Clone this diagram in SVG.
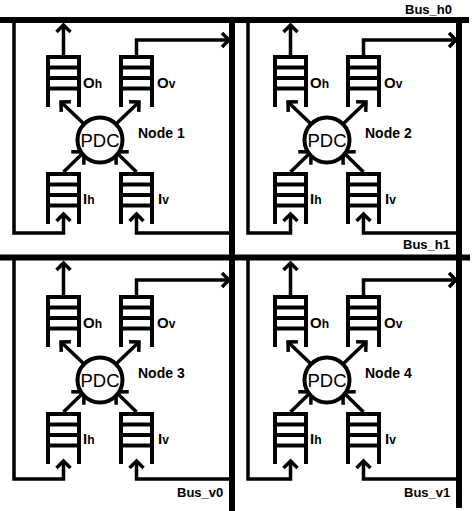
<svg xmlns="http://www.w3.org/2000/svg" width="474" height="511" viewBox="0 0 474 511">
<style>
.bus{fill:none;stroke:#000;stroke-width:6}
.ln{fill:none;stroke:#000;stroke-width:3.5}
.ar{marker-end:url(#ah)}
.ar2{marker-end:url(#ah2)}
.q{fill:none;stroke:#000;stroke-width:4}
.pdc{fill:#fff;stroke:#000;stroke-width:4}
.pt{font-family:"Liberation Sans",Arial,sans-serif;font-size:18.5px;fill:#000;text-anchor:middle}
.ql{font-family:"Liberation Sans",Arial,sans-serif;font-weight:bold;font-size:15px;fill:#000}
.sb{font-size:12px}
.nl{font-family:"Liberation Sans",Arial,sans-serif;font-weight:bold;font-size:14px;fill:#000}
.bl{font-family:"Liberation Sans",Arial,sans-serif;font-weight:bold;font-size:13px;fill:#000}
</style>
<defs>
<marker id="ah" markerUnits="userSpaceOnUse" viewBox="-10 -10 20 20" markerWidth="20" markerHeight="20" refX="0" refY="0" orient="auto" overflow="visible">
<path d="M-7,-7 L0,0 L-7,7" fill="none" stroke="#000" stroke-width="3.5"/>
</marker>
<marker id="ah2" markerUnits="userSpaceOnUse" viewBox="-12 -12 24 24" markerWidth="24" markerHeight="24" refX="0" refY="0" orient="auto" overflow="visible">
<path d="M-9,-9 L0,0 L-9,9" fill="none" stroke="#000" stroke-width="3.5"/>
</marker>
<path id="queue" class="q" d="M2 0 V52 M33 0 V52 M2 2 H33 M2 12.5 H33 M2 23 H33 M2 33.5 H33"/>
</defs>
<rect x="0" y="0" width="474" height="511" fill="#fff"/>
<g id="buses">
<path class="bus" d="M0 20 H469"/>
<path class="bus" d="M0 257.5 H470"/>
<path class="bus" d="M232 17 V511"/>
<path class="bus" d="M459 17 V508"/>
<text class="bl" x="405" y="14">Bus_h0</text>
<text class="bl" x="403" y="249">Bus_h1</text>
<text class="bl" x="177" y="497">Bus_v0</text>
<text class="bl" x="404" y="497">Bus_v1</text>
</g>
<g id="connectors">
<path class="ln ar" d="M63.5 55 V25"/>
<path class="ln ar" d="M136.5 55 V40 H229"/>
<path class="ln ar" d="M84 124 L61 102"/>
<path class="ln ar" d="M116 124 L139 102"/>
<path class="ln ar2" d="M63.5 172 L84 152"/>
<path class="ln ar2" d="M136.5 172 L116 152"/>
<path class="ln ar" d="M14 20 V233 H63.5 V214"/>
<path class="ln ar" d="M232 233 H136.5 V214"/>

<path class="ln ar" d="M290.5 55 V25"/>
<path class="ln ar" d="M363.5 55 V40 H456"/>
<path class="ln ar" d="M311 124 L288 102"/>
<path class="ln ar" d="M343 124 L366 102"/>
<path class="ln ar2" d="M290.5 172 L311 152"/>
<path class="ln ar2" d="M363.5 172 L343 152"/>
<path class="ln ar" d="M248 20 V233 H290.5 V214"/>
<path class="ln ar" d="M459 233 H363.5 V214"/>

<path class="ln ar" d="M63.5 295 V263"/>
<path class="ln ar" d="M136.5 295 V280 H229"/>
<path class="ln ar" d="M84 364 L61 342"/>
<path class="ln ar" d="M116 364 L139 342"/>
<path class="ln ar2" d="M63.5 412 L84 392"/>
<path class="ln ar2" d="M136.5 412 L116 392"/>
<path class="ln ar" d="M14 258 V479 H63.5 V461"/>
<path class="ln ar" d="M232 479 H136.5 V461"/>

<path class="ln ar" d="M290.5 295 V263"/>
<path class="ln ar" d="M363.5 295 V280 H456"/>
<path class="ln ar" d="M311 364 L288 342"/>
<path class="ln ar" d="M343 364 L366 342"/>
<path class="ln ar2" d="M290.5 412 L311 392"/>
<path class="ln ar2" d="M363.5 412 L343 392"/>
<path class="ln ar" d="M248 258 V479 H290.5 V461"/>
<path class="ln ar" d="M459 479 H363.5 V461"/>
</g>
<g id="node1">
<use href="#queue" x="46" y="55"/>
<use href="#queue" x="119" y="55"/>
<use href="#queue" x="46" y="172"/>
<use href="#queue" x="119" y="172"/>
<circle class="pdc" cx="100" cy="140" r="22.5"/>
<text class="pt" x="100" y="147">PDC</text>
<text class="ql" x="83" y="88">O<tspan class="sb">h</tspan></text>
<text class="ql" x="157" y="88">O<tspan class="sb">v</tspan></text>
<text class="ql" x="83" y="204">I<tspan class="sb">h</tspan></text>
<text class="ql" x="158" y="204">I<tspan class="sb">v</tspan></text>
<text class="nl" x="138" y="138">Node 1</text>
</g>
<g id="node2" transform="translate(227,0)">
<use href="#queue" x="46" y="55"/>
<use href="#queue" x="119" y="55"/>
<use href="#queue" x="46" y="172"/>
<use href="#queue" x="119" y="172"/>
<circle class="pdc" cx="100" cy="140" r="22.5"/>
<text class="pt" x="100" y="147">PDC</text>
<text class="ql" x="83" y="88">O<tspan class="sb">h</tspan></text>
<text class="ql" x="157" y="88">O<tspan class="sb">v</tspan></text>
<text class="ql" x="83" y="204">I<tspan class="sb">h</tspan></text>
<text class="ql" x="158" y="204">I<tspan class="sb">v</tspan></text>
<text class="nl" x="138" y="138">Node 2</text>
</g>
<g id="node3" transform="translate(0,240)">
<use href="#queue" x="46" y="55"/>
<use href="#queue" x="119" y="55"/>
<use href="#queue" x="46" y="172"/>
<use href="#queue" x="119" y="172"/>
<circle class="pdc" cx="100" cy="140" r="22.5"/>
<text class="pt" x="100" y="147">PDC</text>
<text class="ql" x="83" y="88">O<tspan class="sb">h</tspan></text>
<text class="ql" x="157" y="88">O<tspan class="sb">v</tspan></text>
<text class="ql" x="83" y="204">I<tspan class="sb">h</tspan></text>
<text class="ql" x="158" y="204">I<tspan class="sb">v</tspan></text>
<text class="nl" x="138" y="138">Node 3</text>
</g>
<g id="node4" transform="translate(227,240)">
<use href="#queue" x="46" y="55"/>
<use href="#queue" x="119" y="55"/>
<use href="#queue" x="46" y="172"/>
<use href="#queue" x="119" y="172"/>
<circle class="pdc" cx="100" cy="140" r="22.5"/>
<text class="pt" x="100" y="147">PDC</text>
<text class="ql" x="83" y="88">O<tspan class="sb">h</tspan></text>
<text class="ql" x="157" y="88">O<tspan class="sb">v</tspan></text>
<text class="ql" x="83" y="204">I<tspan class="sb">h</tspan></text>
<text class="ql" x="158" y="204">I<tspan class="sb">v</tspan></text>
<text class="nl" x="138" y="138">Node 4</text>
</g>
</svg>
